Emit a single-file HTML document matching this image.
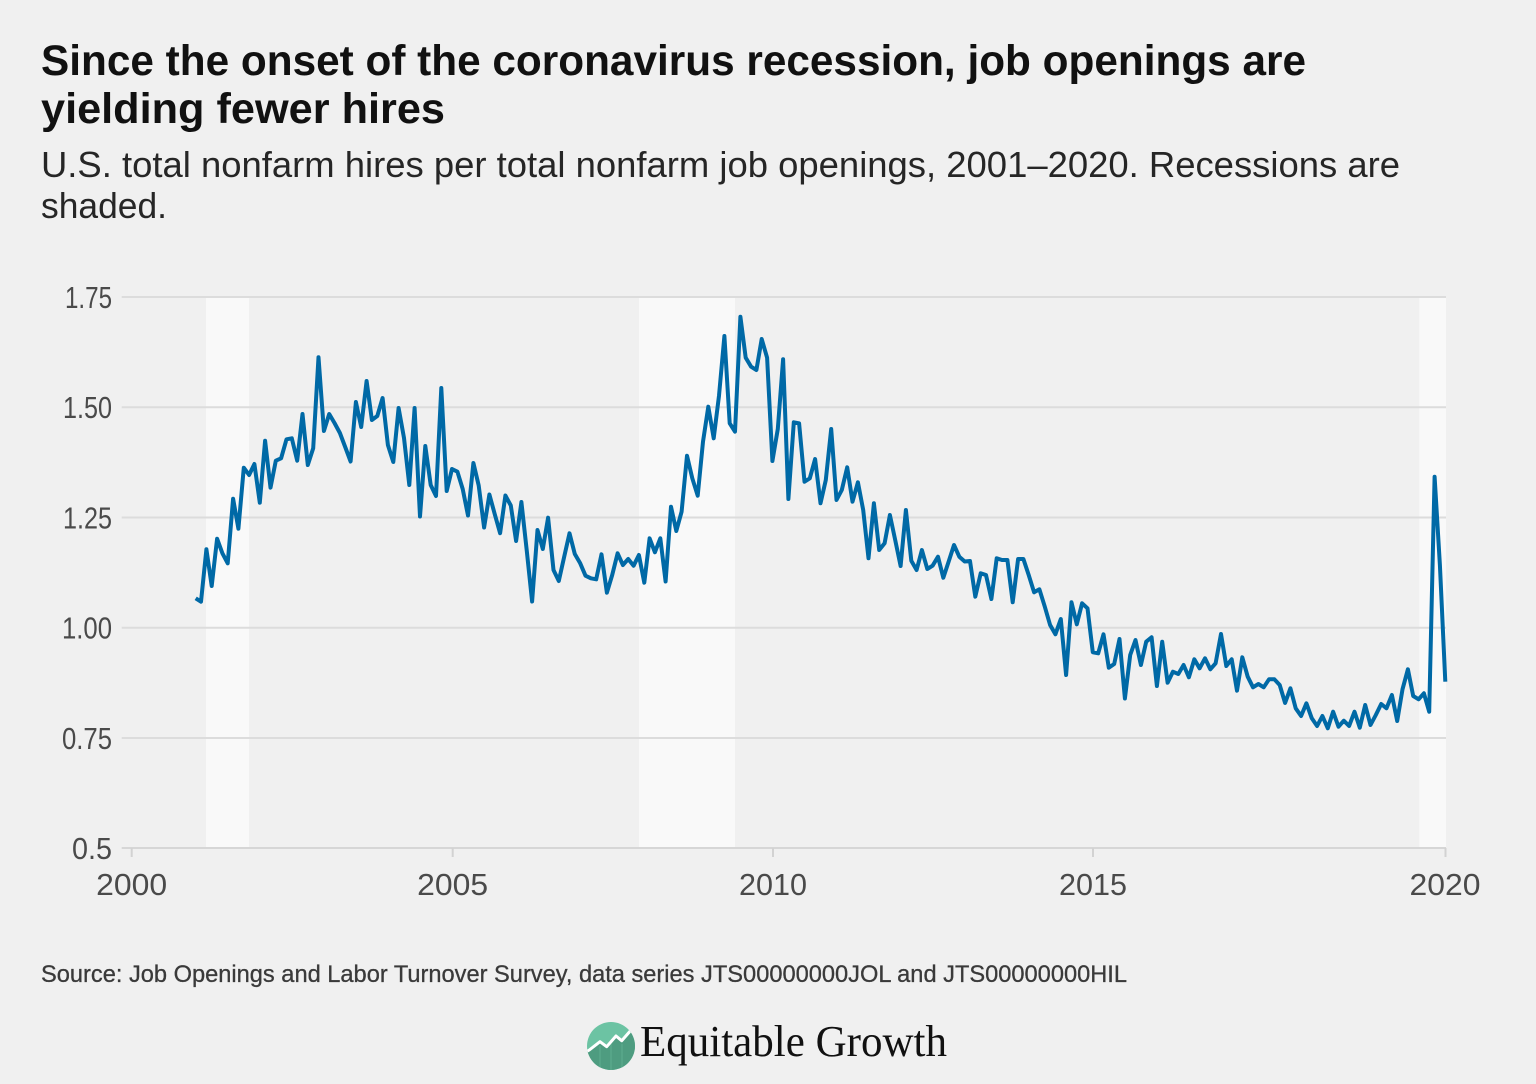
<!DOCTYPE html>
<html>
<head>
<meta charset="utf-8">
<style>
html,body{margin:0;padding:0;background:#f0f0f0;}
body{width:1536px;height:1084px;overflow:hidden;}
svg{display:block;}
</style>
</head>
<body>
<svg width="1536" height="1084" viewBox="0 0 1536 1084" xmlns="http://www.w3.org/2000/svg">
<rect x="0" y="0" width="1536" height="1084" fill="#f0f0f0"/>

<!-- Title -->
<text x="41" y="75" font-family="'Liberation Sans', sans-serif" font-weight="bold" font-size="43" fill="#111" textLength="1265" lengthAdjust="spacingAndGlyphs">Since the onset of the coronavirus recession, job openings are</text>
<text x="41" y="123" font-family="'Liberation Sans', sans-serif" font-weight="bold" font-size="43" fill="#111" textLength="404" lengthAdjust="spacingAndGlyphs">yielding fewer hires</text>

<!-- Subtitle -->
<text x="41" y="177" font-family="'Liberation Sans', sans-serif" font-size="36" fill="#262626" textLength="1359" lengthAdjust="spacingAndGlyphs">U.S. total nonfarm hires per total nonfarm job openings, 2001–2020. Recessions are</text>
<text x="41" y="218" font-family="'Liberation Sans', sans-serif" font-size="36" fill="#262626" textLength="126" lengthAdjust="spacingAndGlyphs">shaded.</text>

<!-- Recession bands -->
<rect x="206" y="297" width="43" height="551" fill="#f9f9f9"/>
<rect x="639" y="297" width="96" height="551" fill="#f9f9f9"/>
<rect x="1419.3" y="297" width="26.7" height="551" fill="#f9f9f9"/>

<!-- Gridlines -->
<g stroke="#dcdcdc" stroke-width="2">
<line x1="121.7" y1="297" x2="1446" y2="297"/>
<line x1="121.7" y1="407.2" x2="1446" y2="407.2"/>
<line x1="121.7" y1="517.5" x2="1446" y2="517.5"/>
<line x1="121.7" y1="627.7" x2="1446" y2="627.7"/>
<line x1="121.7" y1="738" x2="1446" y2="738"/>
<line x1="121.7" y1="848" x2="1446" y2="848" stroke="#d6d6d6"/>
</g>
<!-- Ticks -->
<g stroke="#d2d2d2" stroke-width="2">
<line x1="131.7" y1="848" x2="131.7" y2="857"/>
<line x1="452.7" y1="848" x2="452.7" y2="857"/>
<line x1="773" y1="848" x2="773" y2="857"/>
<line x1="1093" y1="848" x2="1093" y2="857"/>
<line x1="1445.5" y1="848" x2="1445.5" y2="857"/>
</g>

<!-- Y labels -->
<g font-family="'Liberation Sans', sans-serif" font-size="31" fill="#4a4a4a" text-anchor="end">
<text x="112" y="308" textLength="47" lengthAdjust="spacingAndGlyphs">1.75</text>
<text x="112" y="418.2" textLength="49" lengthAdjust="spacingAndGlyphs">1.50</text>
<text x="112" y="528.5" textLength="49" lengthAdjust="spacingAndGlyphs">1.25</text>
<text x="112" y="638.7" textLength="50" lengthAdjust="spacingAndGlyphs">1.00</text>
<text x="112" y="749" textLength="50" lengthAdjust="spacingAndGlyphs">0.75</text>
<text x="112" y="859" textLength="40" lengthAdjust="spacingAndGlyphs">0.5</text>
</g>

<!-- X labels -->
<g font-family="'Liberation Sans', sans-serif" font-size="31" fill="#4a4a4a" text-anchor="middle">
<text x="131.7" y="895" textLength="71" lengthAdjust="spacingAndGlyphs">2000</text>
<text x="452.7" y="895" textLength="71" lengthAdjust="spacingAndGlyphs">2005</text>
<text x="773" y="895" textLength="68" lengthAdjust="spacingAndGlyphs">2010</text>
<text x="1093" y="895" textLength="68" lengthAdjust="spacingAndGlyphs">2015</text>
<text x="1445" y="895" textLength="71" lengthAdjust="spacingAndGlyphs">2020</text>
</g>

<!-- Data line -->
<polyline fill="none" stroke="#0069a6" stroke-width="4" stroke-linejoin="round" stroke-linecap="butt" points="
195.7,598.3 201.0,601.7 206.4,549.3 211.7,586 217.1,538.7 222.4,553.3 227.7,563.3 233.1,498.7 238.4,528.7 243.8,467.7
249.1,475 254.4,464 259.8,502.7 265.1,440.7 270.5,487.7 275.8,460.7 281.1,458.3 286.5,439.3 291.8,438.3 297.2,460.7
302.5,414 307.8,465 313.2,448.3 318.5,357.3 323.9,431 329.2,414 334.5,423 339.9,433 345.2,447 350.6,461.5
355.9,402 361.2,427 366.6,381 371.9,420 377.3,416 382.6,398 387.9,445 393.3,462 398.6,408 404.0,438
409.3,485 414.6,408 420.0,516.5 425.3,446 430.7,485 436.0,496 441.3,388 446.7,491 452.0,469 457.4,471.7
462.7,489 468.0,515.5 473.4,463 478.7,485.5 484.1,527.5 489.4,494.5 494.7,514 500.1,533.2 505.4,495.5 510.8,505.5
516.1,541 521.4,502 526.8,551 532.1,601.5 537.5,530 542.8,549 548.1,517.7 553.5,570 558.8,581 564.2,556.7
569.5,533.3 574.8,554 580.2,563.3 585.5,575.7 590.9,578.3 596.2,579.3 601.5,554.3 606.9,592.7 612.2,575 617.6,553.3
622.9,565 628.2,559 633.6,565.7 638.9,555 644.3,582.7 649.6,538.3 654.9,552.3 660.3,538.3 665.6,581.5 671.0,506.7
676.3,531 681.6,511.7 687.0,455.7 692.3,478.3 697.7,495.7 703.0,441.7 708.3,406.7 713.7,438.3 719.0,395.7 724.4,336
729.7,423.3 735.0,431.7 740.4,316.7 745.7,357.7 751.1,366.7 756.4,370 761.7,339 767.1,357.7 772.4,461 777.8,429
783.1,359.3 788.4,499 793.8,422.3 799.1,423.3 804.5,481.7 809.8,478.3 815.1,459 820.5,503.3 825.8,480 831.2,429
836.5,500 841.8,490 847.2,467.3 852.5,501.7 857.9,482.3 863.2,510 868.5,558.3 873.9,503.3 879.2,550 884.6,543.3
889.9,515 895.2,540 900.6,566 905.9,510 911.3,560.7 916.6,570 921.9,550 927.3,569 932.6,565.7 938.0,556.7
943.3,577.7 948.6,561.7 954.0,545 959.3,556.7 964.7,561.5 970.0,561 975.3,596.7 980.7,573.3 986.0,575 991.4,599
996.7,558.3 1002.0,560 1007.4,560 1012.7,602.3 1018.1,559 1023.4,559 1028.7,575 1034.1,592.3 1039.4,589.3 1044.8,606.7
1050.1,625 1055.4,634.3 1060.8,619 1066.1,675 1071.5,602.3 1076.8,624.3 1082.1,603.3 1087.5,608.3 1092.8,652.3 1098.2,653.3
1103.5,634.3 1108.8,667.7 1114.2,664 1119.5,639 1124.9,698.5 1130.2,655 1135.5,640 1140.9,665 1146.2,641.7 1151.6,637.3
1156.9,686 1162.2,641.7 1167.6,682.7 1172.9,671.7 1178.3,674 1183.6,665 1188.9,677.3 1194.3,659.3 1199.6,668.3 1205.0,658.3
1210.3,669.3 1215.6,663.3 1221.0,634 1226.3,666 1231.7,659.3 1237.0,690.7 1242.3,657.3 1247.7,676.7 1253.0,687.3 1258.4,684
1263.7,687.3 1269.0,679.3 1274.4,679.3 1279.7,685 1285.1,703 1290.4,688.3 1295.7,708.3 1301.1,716 1306.4,703.3 1311.8,718.3
1317.1,726 1322.4,716 1327.8,728.3 1333.1,711.7 1338.5,726.7 1343.8,720.7 1349.1,726 1354.5,711.7 1359.8,727.7 1365.2,705
1370.5,725 1375.8,715 1381.2,704 1386.5,708.3 1391.9,695 1397.2,721 1402.5,689.3 1407.9,669.3 1413.2,696 1418.6,699.3
1423.9,693.3 1429.2,711.7 1434.6,476.7 1439.9,565 1445.3,681.7"/>

<!-- Source -->
<text x="41" y="982" font-family="'Liberation Sans', sans-serif" font-size="24" fill="#3a3a3a" stroke="#3a3a3a" stroke-width="0.3" textLength="1086" lengthAdjust="spacingAndGlyphs">Source: Job Openings and Labor Turnover Survey, data series JTS00000000JOL and JTS00000000HIL</text>

<!-- Logo -->
<defs>
<clipPath id="lc"><circle cx="611" cy="1046" r="24"/></clipPath>
</defs>
<g clip-path="url(#lc)">
<rect x="585" y="1020" width="52" height="52" fill="#6cc3a3"/>
<polygon points="584,1053 589.3,1050 600,1041.7 606.7,1046.7 616,1036 621.7,1040.7 632,1029 640,1027 640,1075 584,1075" fill="#4e9c80"/>
<g stroke="#5fae91" stroke-width="1">
<line x1="600" y1="1046" x2="600" y2="1072"/>
<line x1="611" y1="1042" x2="611" y2="1072"/>
<line x1="622" y1="1044" x2="622" y2="1072"/>
</g>
<polyline points="584,1053 589.3,1050 600,1041.7 606.7,1046.7 616,1036 621.7,1040.7 632,1029 640,1025" fill="none" stroke="#ffffff" stroke-width="3" stroke-linejoin="round"/>
</g>
<text x="640" y="1056" font-family="'Liberation Serif', serif" font-size="44" fill="#111" textLength="307" lengthAdjust="spacingAndGlyphs">Equitable Growth</text>
</svg>
</body>
</html>
